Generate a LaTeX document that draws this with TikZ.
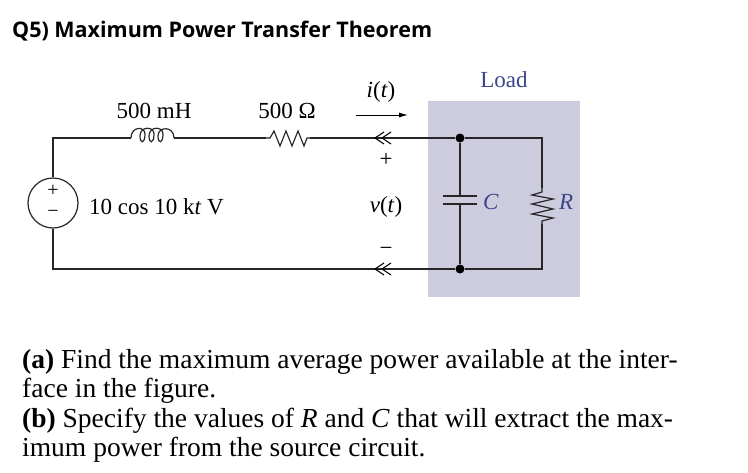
\documentclass[tikz,border=0pt]{standalone}
\usepackage{fontspec}
\setmainfont{Liberation Serif}
\newfontfamily\titlefont{Open Sans}
\usetikzlibrary{arrows.meta}
\definecolor{loadbg}{RGB}{204,204,222}
\definecolor{loadtxt}{RGB}{60,70,140}
\tikzset{
  wire/.style={line width=1.2pt,black!85},
  lbl/.style={font=\fontsize{23}{25}\selectfont,inner sep=0pt},
  qtext/.style={font=\fontsize{27.5}{30}\selectfont,anchor=base west,inner sep=0pt},
  dot/.style={circle,fill=black,inner sep=0pt,minimum size=9pt},
  chev/.style={line width=1pt}
}
\begin{document}
\begin{tikzpicture}[x=1pt,y=-1pt]
\useasboundingbox (0,0) rectangle (748,472);
\node[font=\titlefont\bfseries\fontsize{21.5}{23}\selectfont,anchor=base west,inner sep=0pt] (title) at (12,37) {Q5) Maximum Power Transfer Theorem};
% load box
\fill[loadbg] (428,101) rectangle (580,297);
\node[lbl,text=loadtxt] (load) at (504,80) {Load};
% nodes
\coordinate (tl) at (53,138);
\coordinate (bl) at (53,269);
\node[draw,wire,circle,minimum size=50pt,inner sep=0pt] (src) at (53,203) {};
\node[font=\fontsize{20}{20}\selectfont,inner sep=0pt] (sp) at (53,191) {+};
\node[font=\fontsize{20}{20}\selectfont,inner sep=0pt] (sm) at (53,214) {\textminus};
\coordinate (l1) at (131,138); \coordinate (l2) at (174,138);
\coordinate (r1) at (266,138); \coordinate (r2) at (310,138);
\node[dot] (nt) at (460,138) {};
\node[dot] (nb) at (460,269) {};
\coordinate (rt) at (542,138); \coordinate (rb) at (542,269);
\coordinate (c1) at (460,196); \coordinate (c2) at (460,204);
\coordinate (rr1) at (542,188); \coordinate (rr2) at (542,224);
% wiring
\draw[wire] (src.north) -- (tl) -- (l1);
\draw[wire] (l1) .. controls (131,126) and (145,126) .. (145,134) .. controls (145,144) and (140,144) .. (140,136)
 .. controls (140,126) and (154,126) .. (154,134) .. controls (154,144) and (149,144) .. (149,136)
 .. controls (149,126) and (163,126) .. (163,134) .. controls (163,144) and (158,144) .. (158,136)
 .. controls (158,126) and (174,126) .. (174,138);
\draw[wire] (l2) -- (r1);
\draw[wire] (r1) -- (270,138) -- (274,131) -- (280,146) -- (286,131) -- (292,146) -- (298,131) -- (304,146) -- (307,138) -- (r2);
\draw[wire] (r2) -- (nt) -- (rt) -- (rr1);
\draw[wire] (rr1) -- (542,192) -- (532,195) -- (553,199) -- (532,204) -- (553,209) -- (532,214) -- (553,218) -- (542,221) -- (rr2);
\draw[wire] (rr2) -- (rb) -- (nb) -- (bl) -- (src.south);
\draw[wire] (nt) -- (c1); \draw[wire] (c2) -- (nb);
\draw[wire] (443,196) -- (477,196); \draw[wire] (443,204) -- (477,204);
% chevrons
\foreach \y in {138,269}{
 \draw[chev] (384,\y-6) -- (375,\y) -- (384,\y+6);
 \draw[chev] (391,\y-6) -- (382,\y) -- (391,\y+6);
}
% labels
\node[lbl] (lL) at (154,111) {500 mH};
\node[lbl] (lR) at (287,111) {500 Ω};
\node[lbl] (it) at (381,92) {\textit{i}(\textit{t})};
\coordinate (ia) at (356,115); \coordinate (ib) at (408,115);
\draw[line width=1pt,-{Latex[length=9pt,width=5pt]}] (ia) -- (ib);
\node[lbl] (vp) at (386,160) {+};
\node[lbl] (vt) at (386,207) {\textit{v}(\textit{t})};
\node[lbl] (vm) at (386,251) {\textminus};
\node[lbl,anchor=west] (srcl) at (89,207) {10 cos 10 k\textit{t} V};
\node[lbl,anchor=west,text=loadtxt] (cl) at (483,202) {\textit{C}};
\node[lbl,anchor=west,text=loadtxt] (rl) at (559,202) {\textit{R}};
% question
\node[qtext] (qa) at (22,368) {\textbf{(a)} Find the maximum average power available at the inter-};
\node[qtext] (qa2) at (22,397) {face in the figure.};
\node[qtext] (qb) at (22,427) {\textbf{(b)} Specify the values of \textit{R} and \textit{C} that will extract the max-};
\node[qtext] (qb2) at (22,456) {imum power from the source circuit.};
\end{tikzpicture}
\end{document}
